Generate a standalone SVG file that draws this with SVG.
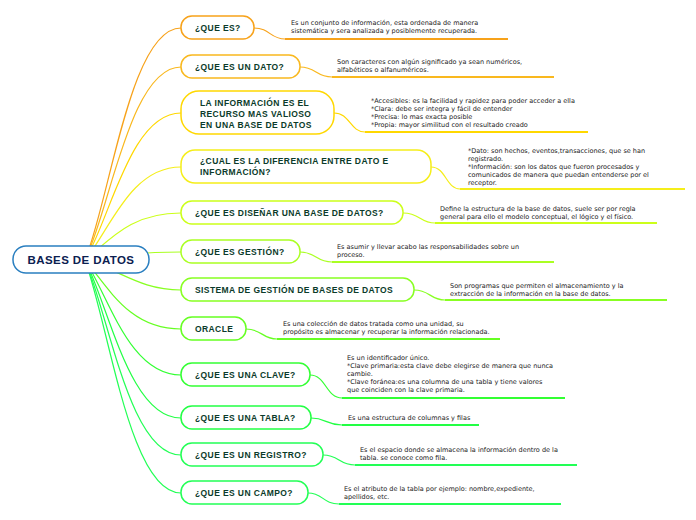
<svg xmlns="http://www.w3.org/2000/svg" width="696" height="520" viewBox="0 0 696 520">
<style>
.n{fill:#fff;stroke-width:1.5}
.t{font-family:"Liberation Sans",Arial,sans-serif;font-weight:bold;font-size:8.5px;fill:#0b3b2a;letter-spacing:0.4px}
.d{font-family:"DejaVu Sans","Liberation Sans",sans-serif;font-size:6.5px;fill:#222}
.c{fill:none;stroke-width:1.2}
.u{stroke-width:2}
</style>
<rect width="696" height="520" fill="#fff"/>
<g id="connectors">
<path class="c" stroke="#f7a21a" d="M85,260 C110,200 130,28 181,28"/>
<path class="c" stroke="#f9b81e" d="M85,260 C110,210 130,67 181,67"/>
<path class="c" stroke="#ffd800" d="M85,260 C110,220 130,113 181,113"/>
<path class="c" stroke="#f5ee1a" d="M85,260 C110,230 130,167 181,167"/>
<path class="c" stroke="#ccff1a" d="M85,260 C110,240 130,213 181,213"/>
<path class="c" stroke="#aaff22" d="M85,260 C120,255 140,252 181,252"/>
<path class="c" stroke="#88ff22" d="M85,260 C120,270 140,290 181,290"/>
<path class="c" stroke="#66ff22" d="M85,260 C110,290 130,329 181,329"/>
<path class="c" stroke="#33ff33" d="M85,260 C110,300 130,375 181,375"/>
<path class="c" stroke="#22ff44" d="M85,260 C110,310 130,418 181,418"/>
<path class="c" stroke="#22ff55" d="M85,260 C110,320 130,455 181,455"/>
<path class="c" stroke="#22ff55" d="M85,260 C110,330 130,493 181,493"/>
<g class="c">
<path stroke="#f7a21a" d="M254,28 C270,28 270,39 285,39"/>
<path stroke="#f9b81e" d="M300,67 C316,67 316,77 332,77"/>
<path stroke="#ffd800" d="M334,113 C350,113 350,132 365,132"/>
<path stroke="#f5ee1a" d="M431,167 C446,167 446,189 460,189"/>
<path stroke="#ccff1a" d="M403,213 C420,213 420,223 435,223"/>
<path stroke="#aaff22" d="M300,252 C316,252 316,262 332,262"/>
<path stroke="#88ff22" d="M414,290 C430,290 430,300 445,300"/>
<path stroke="#66ff22" d="M246,329 C262,329 262,339 277,339"/>
<path stroke="#33ff33" d="M310,375 C326,375 326,398 342,398"/>
<path stroke="#22ff44" d="M311,418 C326,418 326,425 342,425"/>
<path stroke="#22ff55" d="M323,455 C339,455 339,465 355,465"/>
<path stroke="#22ff55" d="M308,493 C323,493 323,504 339,504"/>
</g>
<g class="u">
<line stroke="#f7a21a" x1="285" y1="39" x2="508" y2="39"/>
<line stroke="#f9b81e" x1="332" y1="77" x2="554" y2="77"/>
<line stroke="#ffd800" x1="365" y1="132" x2="588" y2="132"/>
<line stroke="#f5ee1a" x1="460" y1="189" x2="685" y2="189"/>
<line stroke="#ccff1a" x1="435" y1="223" x2="657" y2="223"/>
<line stroke="#aaff22" x1="332" y1="262" x2="554" y2="262"/>
<line stroke="#88ff22" x1="445" y1="300" x2="667" y2="300"/>
<line stroke="#66ff22" x1="277" y1="339" x2="500" y2="339"/>
<line stroke="#33ff33" x1="342" y1="398" x2="565" y2="398"/>
<line stroke="#22ff44" x1="342" y1="425" x2="479" y2="425"/>
<line stroke="#22ff55" x1="355" y1="465" x2="577" y2="465"/>
<line stroke="#22ff55" x1="339" y1="504" x2="561" y2="504"/>
</g>
</g>
<g id="root"><rect x="13" y="246" width="136" height="27" rx="13" fill="#fff" stroke="#2a7fc0" stroke-width="1.5"/><text x="81" y="264" text-anchor="middle" font-family="Liberation Sans,Arial,sans-serif" font-weight="bold" font-size="11.5" letter-spacing="0.4" fill="#0b2050">BASES DE DATOS</text></g>
<g id="n1"><rect class="n" stroke="#f7a21a" x="181" y="16" width="73" height="23" rx="11"/><text class="t" x="195" y="31">¿QUE ES?</text></g>
<g id="n2"><rect class="n" stroke="#f9b81e" x="181" y="55" width="119" height="23" rx="11"/><text class="t" x="195" y="70">¿QUE ES UN DATO?</text></g>
<g id="n3"><rect class="n" stroke="#ffd800" x="181" y="91" width="153" height="43" rx="18"/><text class="t" x="200" y="106">LA INFORMACIÓN ES EL</text><text class="t" x="200" y="117">RECURSO MAS VALIOSO</text><text class="t" x="200" y="128">EN UNA BASE DE DATOS</text></g>
<g id="n4"><rect class="n" stroke="#f5ee1a" x="181" y="150" width="250" height="33" rx="14"/><text class="t" x="200" y="164">¿CUAL ES LA DIFERENCIA ENTRE DATO E</text><text class="t" x="200" y="175">INFORMACIÓN?</text></g>
<g id="n5"><rect class="n" stroke="#ccff1a" x="181" y="201" width="222" height="23" rx="11"/><text class="t" x="195" y="216">¿QUE ES DISEÑAR UNA BASE DE DATOS?</text></g>
<g id="n6"><rect class="n" stroke="#aaff22" x="181" y="240" width="119" height="23" rx="11"/><text class="t" x="195" y="255">¿QUE ES GESTIÓN?</text></g>
<g id="n7"><rect class="n" stroke="#88ff22" x="181" y="278" width="233" height="23" rx="11"/><text class="t" x="195" y="293">SISTEMA DE GESTIÓN DE BASES DE DATOS</text></g>
<g id="n8"><rect class="n" stroke="#66ff22" x="181" y="317" width="65" height="23" rx="11"/><text class="t" x="195" y="332">ORACLE</text></g>
<g id="n9"><rect class="n" stroke="#33ff33" x="181" y="363" width="129" height="23" rx="11"/><text class="t" x="195" y="378">¿QUE ES UNA CLAVE?</text></g>
<g id="n10"><rect class="n" stroke="#22ff44" x="181" y="406" width="130" height="23" rx="11"/><text class="t" x="195" y="421">¿QUE ES UNA TABLA?</text></g>
<g id="n11"><rect class="n" stroke="#22ff55" x="181" y="443" width="142" height="23" rx="11"/><text class="t" x="195" y="458">¿QUE ES UN REGISTRO?</text></g>
<g id="n12"><rect class="n" stroke="#22ff55" x="181" y="481" width="127" height="23" rx="11"/><text class="t" x="195" y="496">¿QUE ES UN CAMPO?</text></g>
<g id="descriptions" class="d">
<text x="291" y="25">Es un conjunto de información, esta ordenada de manera</text><text x="291" y="33">sistemática y sera analizada y posiblemente recuperada.</text>
<text x="337" y="64">Son caracteres con algún significado ya sean numéricos,</text><text x="337" y="72">alfabéticos o alfanuméricos.</text>
<text x="371" y="103">*Accesibles: es la facilidad y rapidez para poder acceder a ella</text><text x="371" y="111">*Clara: debe ser integra y fácil de entender</text><text x="371" y="119">*Precisa: lo mas exacta posible</text><text x="371" y="127">*Propia: mayor similitud con el resultado creado</text>
<text x="468" y="153">*Dato: son hechos, eventos,transacciones, que se han</text><text x="468" y="161">registrado.</text><text x="468" y="169">*Información: son los datos que fueron procesados y</text><text x="468" y="177">comunicados de manera que puedan entenderse por el</text><text x="468" y="185">receptor.</text>
<text x="440" y="211">Define la estructura de la base de datos, suele ser por regla</text><text x="440" y="219">general para ello el modelo conceptual, el lógico y el físico.</text>
<text x="337" y="249">Es asumir y llevar acabo las responsabilidades sobre un</text><text x="337" y="257">proceso.</text>
<text x="450" y="288">Son programas que permiten el almacenamiento y la</text><text x="450" y="296">extracción de la información en la base de datos.</text>
<text x="283" y="326">Es una colección de datos tratada como una unidad, su</text><text x="283" y="334">propósito es almacenar y recuperar la información relacionada.</text>
<text x="347" y="360">Es un identificador único.</text><text x="347" y="368">*Clave primaria:esta clave debe elegirse de manera que nunca</text><text x="347" y="376">cambie.</text><text x="347" y="384">*Clave foránea:es una columna de una tabla y tiene valores</text><text x="347" y="392">que coinciden con la clave primaria.</text>
<text x="348" y="420">Es una estructura de columnas y filas</text>
<text x="360" y="452">Es el espacio donde se almacena la información dentro de la</text><text x="360" y="460">tabla. se conoce como fila.</text>
<text x="344" y="491">Es el atributo de la tabla por ejemplo: nombre,expediente,</text><text x="344" y="499">apellidos, etc.</text>
</g>
</svg>
